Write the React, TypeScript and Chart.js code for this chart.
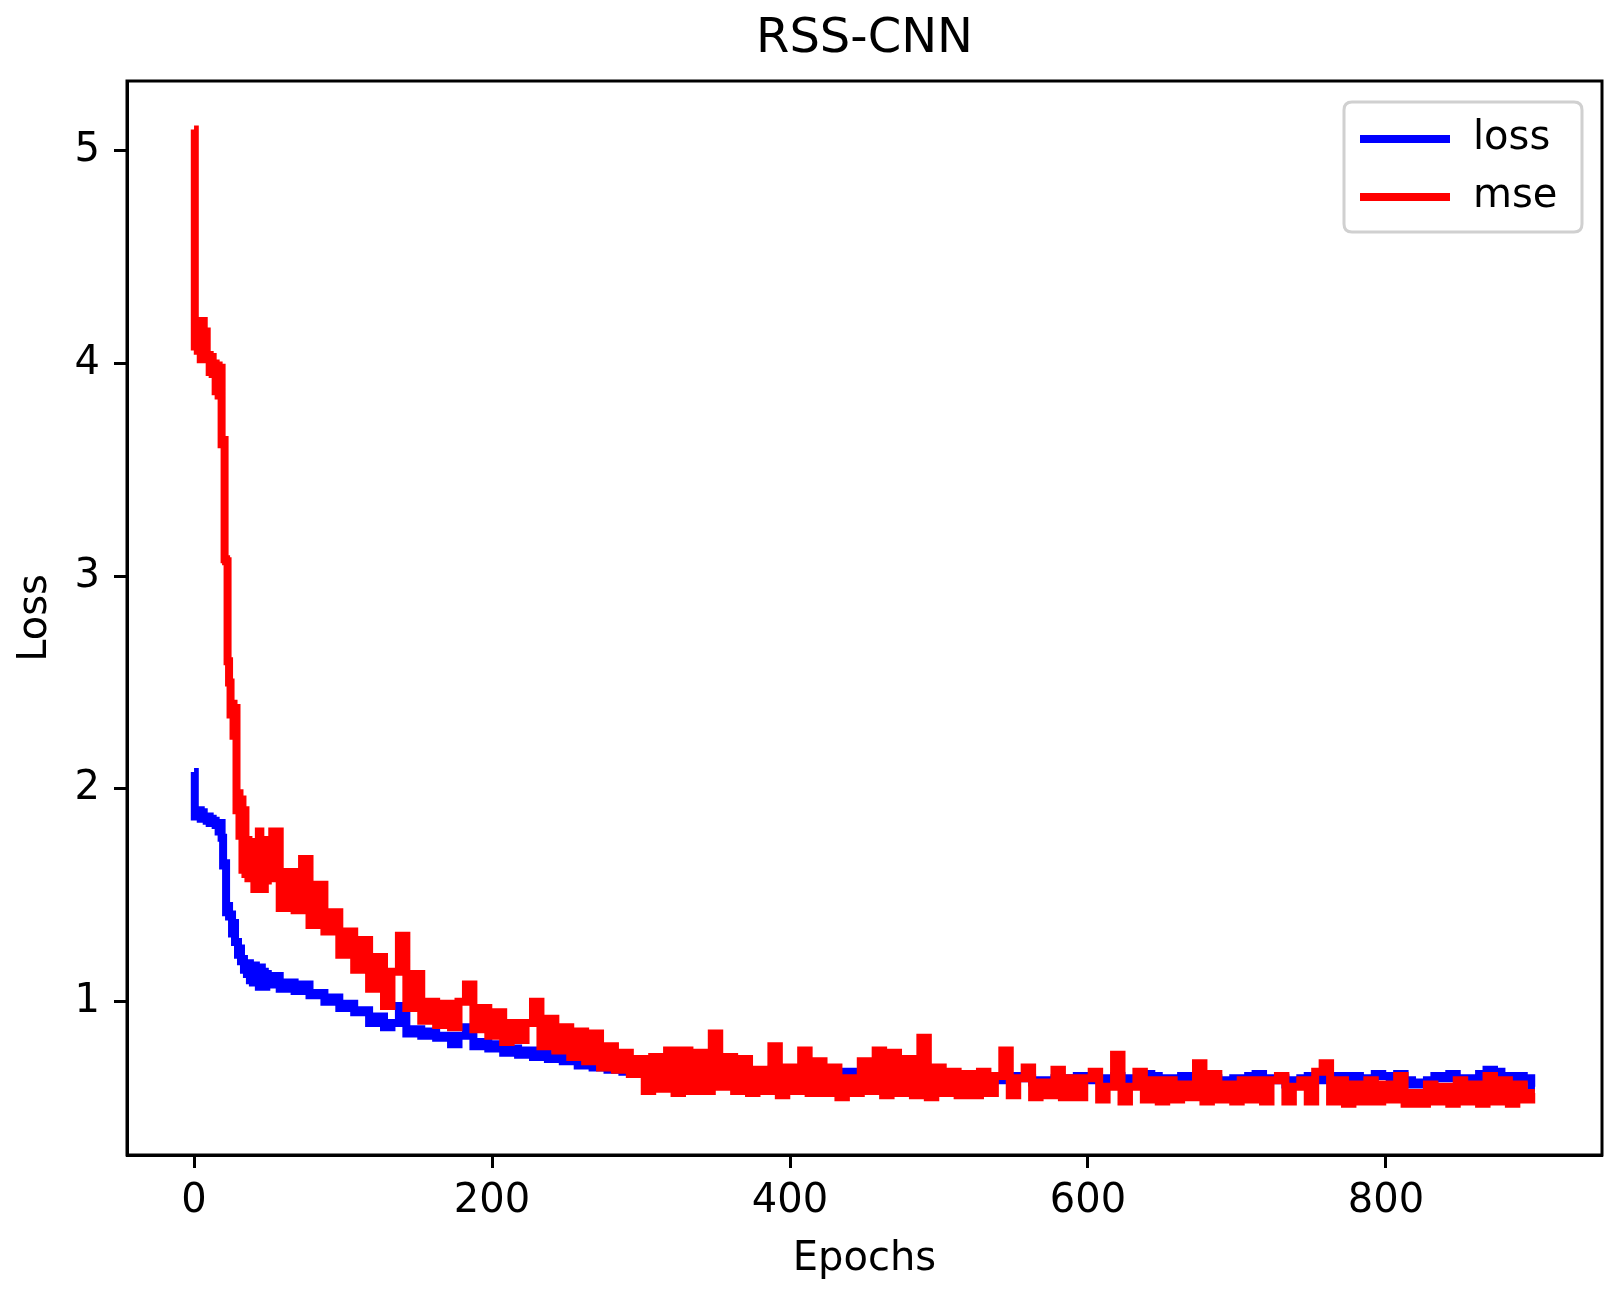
import React, { useEffect, useRef } from 'react';
import { Chart, registerables } from 'chart.js';

Chart.register(...registerables);

// x values (epochs)
const epochs = [
  0, 1, 2, 3, 4, 5, 6, 7, 8, 9, 10, 11, 12, 13, 14, 15, 16, 17, 18, 19,
  20, 21, 22, 23, 24, 25, 26, 27, 28, 29, 30, 31, 32, 33, 34, 35, 36, 37, 38, 39,
  40, 41, 42, 43, 44, 45, 46, 47, 48, 49,
  50, 55, 60, 65, 70, 75, 80, 85, 90, 95,
  100, 105, 110, 115, 120, 125, 130, 135, 140, 145,
  150, 155, 160, 165, 170, 175, 180, 185, 190, 195,
  200, 205, 210, 215, 220, 225, 230, 235, 240, 245,
  250, 255, 260, 265, 270, 275, 280, 285, 290, 295,
  300, 305, 310, 315, 320, 325, 330, 335, 340, 345,
  350, 355, 360, 365, 370, 375, 380, 385, 390, 395,
  400, 405, 410, 415, 420, 425, 430, 435, 440, 445,
  450, 455, 460, 465, 470, 475, 480, 485, 490, 495,
  500, 505, 510, 515, 520, 525, 530, 535, 540, 545,
  550, 555, 560, 565, 570, 575, 580, 585, 590, 595,
  600, 605, 610, 615, 620, 625, 630, 635, 640, 645,
  650, 655, 660, 665, 670, 675, 680, 685, 690, 695,
  700, 705, 710, 715, 720, 725, 730, 735, 740, 745,
  750, 755, 760, 765, 770, 775, 780, 785, 790, 795,
  800, 805, 810, 815, 820, 825, 830, 835, 840, 845,
  850, 855, 860, 865, 870, 875, 880, 885, 890, 895,
  900,
];

// series "loss" (blue)
const lossValues = [
  2.08, 1.87, 1.90, 1.88, 1.90, 1.86, 1.89, 1.86, 1.87, 1.85, 1.87, 1.84, 1.86, 1.84, 1.85, 1.83, 1.84, 1.80, 1.84, 1.77,
  1.64, 1.65, 1.42, 1.45, 1.40, 1.41, 1.32, 1.37, 1.28, 1.28, 1.22, 1.25, 1.19, 1.20, 1.15, 1.17, 1.13, 1.18, 1.10, 1.16,
  1.09, 1.17, 1.10, 1.14, 1.07, 1.16, 1.08, 1.14, 1.07, 1.13,
  1.08, 1.12, 1.06, 1.09, 1.05, 1.08, 1.03, 1.04, 1.00, 1.02,
  0.97, 0.99, 0.95, 0.96, 0.90, 0.93, 0.88, 0.90, 0.98, 0.85,
  0.87, 0.84, 0.86, 0.83, 0.84, 0.80, 0.84, 0.88, 0.79, 0.81,
  0.78, 0.80, 0.76, 0.78, 0.75, 0.77, 0.74, 0.76, 0.73, 0.74,
  0.72, 0.74, 0.70, 0.71, 0.69, 0.70, 0.68, 0.69, 0.67, 0.68,
  0.66, 0.67, 0.66, 0.67, 0.65, 0.67, 0.66, 0.65, 0.67, 0.66,
  0.65, 0.66, 0.65, 0.67, 0.65, 0.66, 0.65, 0.66, 0.68, 0.65,
  0.66, 0.65, 0.66, 0.64, 0.66, 0.65, 0.66, 0.64, 0.67, 0.65,
  0.64, 0.66, 0.65, 0.64, 0.66, 0.65, 0.64, 0.66, 0.65, 0.64,
  0.65, 0.66, 0.64, 0.65, 0.64, 0.66, 0.64, 0.65, 0.63, 0.65,
  0.64, 0.65, 0.64, 0.62, 0.63, 0.61, 0.64, 0.63, 0.64, 0.65,
  0.64, 0.63, 0.64, 0.63, 0.65, 0.64, 0.63, 0.64, 0.66, 0.65,
  0.64, 0.63, 0.64, 0.65, 0.63, 0.64, 0.65, 0.64, 0.60, 0.63,
  0.64, 0.63, 0.65, 0.66, 0.64, 0.63, 0.64, 0.61, 0.63, 0.64,
  0.65, 0.63, 0.64, 0.63, 0.65, 0.64, 0.65, 0.63, 0.64, 0.66,
  0.65, 0.64, 0.66, 0.63, 0.61, 0.62, 0.63, 0.65, 0.64, 0.66,
  0.64, 0.63, 0.64, 0.66, 0.68, 0.67, 0.65, 0.63, 0.65, 0.64,
  0.60,
];

// series "mse" (red)
const mseValues = [
  5.10, 4.08, 4.20, 4.06, 4.18, 4.02, 4.20, 4.05, 4.15, 4.02, 4.04, 3.96, 4.03, 3.95, 4.00, 3.87, 3.99, 3.85, 3.98, 3.62,
  3.64, 3.08, 3.07, 2.60, 2.50, 2.35, 2.40, 2.25, 2.38, 1.90, 1.98, 1.78, 1.95, 1.62, 1.90, 1.60, 1.76, 1.58, 1.74, 1.60,
  1.75, 1.53, 1.72, 1.56, 1.80, 1.56, 1.74, 1.53, 1.76, 1.57,
  1.58, 1.80, 1.44, 1.61, 1.43, 1.67, 1.36, 1.55, 1.33, 1.42,
  1.22, 1.33, 1.15, 1.29, 1.06, 1.21, 0.98, 1.14, 1.31, 0.97,
  1.13, 0.91, 1.00, 0.89, 0.99, 0.88, 1.00, 1.08, 0.87, 0.97,
  0.84, 0.95, 0.81, 0.90, 0.82, 0.90, 1.00, 0.79, 0.92, 0.77,
  0.88, 0.74, 0.86, 0.72, 0.85, 0.69, 0.79, 0.68, 0.76, 0.66,
  0.73, 0.58, 0.74, 0.59, 0.77, 0.57, 0.77, 0.58, 0.76, 0.58,
  0.85, 0.60, 0.74, 0.58, 0.73, 0.57, 0.68, 0.58, 0.79, 0.56,
  0.69, 0.58, 0.77, 0.57, 0.72, 0.57, 0.69, 0.55, 0.64, 0.57,
  0.72, 0.58, 0.77, 0.56, 0.76, 0.57, 0.73, 0.56, 0.83, 0.55,
  0.69, 0.57, 0.67, 0.56, 0.66, 0.56, 0.67, 0.57, 0.65, 0.77,
  0.56, 0.64, 0.69, 0.55, 0.62, 0.56, 0.68, 0.55, 0.64, 0.55,
  0.64, 0.67, 0.54, 0.60, 0.75, 0.53, 0.60, 0.67, 0.54, 0.63,
  0.53, 0.63, 0.54, 0.61, 0.55, 0.71, 0.53, 0.66, 0.54, 0.61,
  0.53, 0.63, 0.54, 0.63, 0.53, 0.63, 0.65, 0.53, 0.60, 0.63,
  0.53, 0.67, 0.71, 0.53, 0.63, 0.52, 0.61, 0.53, 0.63, 0.53,
  0.61, 0.54, 0.65, 0.52, 0.57, 0.52, 0.61, 0.53, 0.60, 0.52,
  0.63, 0.53, 0.61, 0.52, 0.65, 0.53, 0.63, 0.52, 0.61, 0.54,
  0.57,
];

const xTicks = [0, 200, 400, 600, 800];
const yTicks = [1, 2, 3, 4, 5];
const seriesNames = ['loss', 'mse'];
const seriesColors = ['#0000ff', '#ff0000'];
const titleText = 'RSS-CNN';
const xTitle = 'Epochs';
const yTitle = 'Loss';

const FONT = "'DejaVu Sans', 'Liberation Sans', sans-serif";
const LINE_W = 8;

export default function App() {
  const ref = useRef<HTMLCanvasElement | null>(null);

  useEffect(() => {
    document.body.style.margin = '0';
    const canvas = ref.current;
    if (!canvas) return;

    const framePlugin = {
      id: 'mplFrameLegend',
      afterDraw(chart: any) {
        const { ctx, chartArea: ca } = chart;
        ctx.save();
        // axes frame (all four spines)
        ctx.strokeStyle = '#000';
        ctx.lineWidth = 3;
        ctx.strokeRect(ca.left, ca.top, ca.right - ca.left, ca.bottom - ca.top);

        // legend box
        const w = 238;
        const h = 130;
        const bx = ca.right - 20 - w;
        const by = ca.top + 21;
        const r = 8;
        ctx.beginPath();
        ctx.moveTo(bx + r, by);
        ctx.lineTo(bx + w - r, by);
        ctx.quadraticCurveTo(bx + w, by, bx + w, by + r);
        ctx.lineTo(bx + w, by + h - r);
        ctx.quadraticCurveTo(bx + w, by + h, bx + w - r, by + h);
        ctx.lineTo(bx + r, by + h);
        ctx.quadraticCurveTo(bx, by + h, bx, by + h - r);
        ctx.lineTo(bx, by + r);
        ctx.quadraticCurveTo(bx, by, bx + r, by);
        ctx.closePath();
        ctx.fillStyle = 'rgba(255,255,255,0.8)';
        ctx.fill();
        ctx.strokeStyle = '#d0d0d0';
        ctx.lineWidth = 3;
        ctx.stroke();

        seriesNames.forEach((name, i) => {
          const cy = by + 37 + i * 58;
          ctx.strokeStyle = seriesColors[i];
          ctx.lineWidth = LINE_W;
          ctx.lineCap = 'butt';
          ctx.beginPath();
          ctx.moveTo(bx + 16, cy);
          ctx.lineTo(bx + 106, cy);
          ctx.stroke();
          ctx.fillStyle = '#000';
          ctx.font = `40px ${FONT}`;
          ctx.textBaseline = 'middle';
          ctx.textAlign = 'left';
          ctx.fillText(name, bx + 129, cy);
        });
        ctx.restore();
      },
    };

    const makeData = (vals: number[]) => epochs.map((x, i) => ({ x, y: vals[i] }));

    const lineStyle = {
      borderWidth: LINE_W,
      pointRadius: 0,
      tension: 0,
      fill: false,
      stepped: 'middle',
      borderJoinStyle: 'miter',
      borderCapStyle: 'butt',
    };

    const chart = new Chart(canvas, {
      type: 'line',
      data: {
        datasets: [
          {
            label: seriesNames[0],
            data: makeData(lossValues),
            borderColor: seriesColors[0],
            backgroundColor: seriesColors[0],
            order: 1,
            ...lineStyle,
          },
          {
            label: seriesNames[1],
            data: makeData(mseValues),
            borderColor: seriesColors[1],
            backgroundColor: seriesColors[1],
            order: 0,
            ...lineStyle,
          },
        ],
      },
      plugins: [framePlugin],
      options: {
        animation: false,
        responsive: true,
        maintainAspectRatio: false,
        devicePixelRatio: 1,
        layout: { padding: { top: 0, right: 20, left: 0, bottom: 0 } },
        plugins: {
          legend: { display: false },
          tooltip: { enabled: false },
          title: {
            display: true,
            text: titleText,
            color: '#000',
            fullSize: false,
            font: { family: FONT, size: 48, weight: 'normal' },
            padding: { top: 11, bottom: 12.4 },
          },
        },
        scales: {
          x: {
            type: 'linear',
            min: -45,
            max: 945,
            afterBuildTicks: (s: any) => {
              s.ticks = xTicks.map((v) => ({ value: v }));
            },
            afterFit: (s: any) => {
              s.height = 135;
            },
            grid: {
              drawOnChartArea: false,
              drawTicks: true,
              tickLength: 13,
              tickWidth: 3,
              tickColor: '#000',
            },
            border: { display: true, color: '#000', width: 3 },
            ticks: {
              color: '#000',
              font: { family: FONT, size: 40 },
              padding: 10,
              maxRotation: 0,
              autoSkip: false,
            },
            title: {
              display: true,
              text: xTitle,
              color: '#000',
              font: { family: FONT, size: 40 },
              padding: { top: 0, bottom: 6 },
            },
          },
          y: {
            type: 'linear',
            min: 0.279,
            max: 5.328,
            afterBuildTicks: (s: any) => {
              s.ticks = yTicks.map((v) => ({ value: v }));
            },
            afterFit: (s: any) => {
              s.width = 127;
            },
            grid: {
              drawOnChartArea: false,
              drawTicks: true,
              tickLength: 13,
              tickWidth: 3,
              tickColor: '#000',
            },
            border: { display: true, color: '#000', width: 3 },
            ticks: {
              color: '#000',
              font: { family: FONT, size: 40 },
              padding: 14,
              autoSkip: false,
            },
            title: {
              display: true,
              text: yTitle,
              color: '#000',
              font: { family: FONT, size: 40 },
              padding: { top: 12, bottom: 0 },
            },
          },
        },
      },
    } as any);

    return () => {
      chart.destroy();
    };
  }, []);

  return (
    <div
      style={{
        position: 'absolute',
        left: 0,
        top: 0,
        width: 1622,
        height: 1290,
        background: '#fff',
      }}
    >
      <canvas ref={ref} />
    </div>
  );
}
